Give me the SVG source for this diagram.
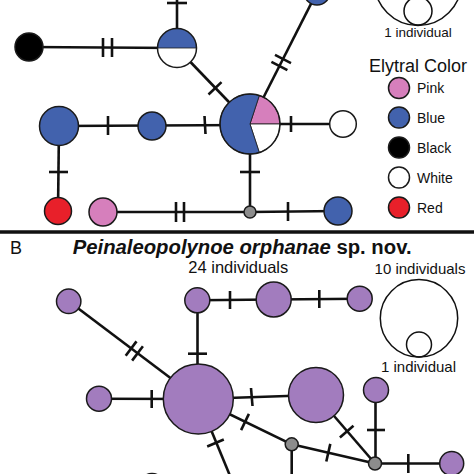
<svg xmlns="http://www.w3.org/2000/svg" width="474" height="474" viewBox="0 0 474 474">
<style>
.e{stroke:#111;stroke-width:2.6;fill:none;stroke-linecap:butt}
.t{stroke:#111;stroke-width:2.6;fill:none}
.n{stroke:#1a1a1a;stroke-width:1.5}
.s{stroke:#1a1a1a;stroke-width:0.8}
.blue{fill:#4262ad}.pink{fill:#d67fbc}.red{fill:#e8202a}.black{fill:#000}.white{fill:#fff}.gray{fill:#8c8c8c}.purple{fill:#a27cbe}
.lg{fill:none;stroke:#111;stroke-width:1.5}
text{font-family:"Liberation Sans",Arial,sans-serif;fill:#111}
</style>
<rect width="474" height="474" fill="#fff"/>
<g id="connectors">
<!-- Panel A -->
<line class="e" x1="29" y1="47" x2="177" y2="48"/>
<line class="t" x1="103" y1="38" x2="103" y2="57"/><line class="t" x1="112" y1="38" x2="112" y2="57"/>
<line class="e" x1="177" y1="48" x2="177" y2="-10"/>
<line class="t" x1="167" y1="3" x2="187" y2="3"/>
<line class="e" x1="177" y1="48" x2="250" y2="124"/>
<line class="t" x1="208.5" y1="94.5" x2="221.5" y2="82.1"/>
<line class="e" x1="250" y1="124" x2="317" y2="-8"/>
<line class="t" x1="275" y1="54.9" x2="291" y2="63.1"/><line class="t" x1="271.4" y1="61.9" x2="287.4" y2="70.1"/>
<line class="e" x1="250" y1="124" x2="343" y2="124"/>
<line class="t" x1="291" y1="116" x2="291" y2="132"/>
<line class="e" x1="59" y1="126" x2="250" y2="125"/>
<line class="t" x1="204.5" y1="116" x2="205.5" y2="134"/>
<line class="t" x1="108" y1="116" x2="108" y2="135"/>
<line class="e" x1="59" y1="126" x2="58" y2="211"/>
<line class="t" x1="49" y1="172" x2="68" y2="172"/>
<line class="e" x1="103" y1="212" x2="250" y2="212"/>
<line class="t" x1="176" y1="202" x2="176" y2="222"/><line class="t" x1="184" y1="202" x2="184" y2="222"/>
<line class="e" x1="250" y1="124" x2="250" y2="212"/>
<line class="t" x1="240" y1="172" x2="260" y2="172"/>
<line class="e" x1="250" y1="212" x2="338" y2="211"/>
<line class="t" x1="288" y1="202" x2="288" y2="221"/>
<!-- Panel B -->
<line class="e" x1="68.7" y1="301.3" x2="198.3" y2="399"/>
<line class="t" x1="125.7" y1="355.8" x2="136.5" y2="341.4"/><line class="t" x1="132.1" y1="360.6" x2="142.9" y2="346.2"/>
<line class="e" x1="197.5" y1="300.3" x2="197.5" y2="399"/>
<line class="t" x1="188" y1="353.7" x2="207" y2="353.7"/>
<line class="e" x1="197.3" y1="300.3" x2="273.7" y2="299.5"/>
<line class="t" x1="230" y1="291" x2="230" y2="309"/>
<line class="e" x1="273.7" y1="299.5" x2="359.7" y2="298.7"/>
<line class="t" x1="319.3" y1="290" x2="319.3" y2="308"/>
<line class="e" x1="99" y1="398.7" x2="198.3" y2="399"/>
<line class="t" x1="151.7" y1="390" x2="151.7" y2="408"/>
<line class="e" x1="198.3" y1="399" x2="316" y2="395"/>
<line class="t" x1="251" y1="388" x2="252.5" y2="406"/>
<line class="e" x1="198.3" y1="399" x2="291.7" y2="444.3"/>
<line class="t" x1="241.1" y1="430.1" x2="248.9" y2="413.9"/>
<line class="e" x1="198.3" y1="399" x2="240" y2="500"/>
<line class="t" x1="207.2" y1="446.5" x2="223.8" y2="439.5"/>
<line class="e" x1="291.7" y1="444.3" x2="291.7" y2="480"/>
<line class="e" x1="291.7" y1="444.3" x2="375" y2="463.5"/>
<line class="t" x1="326.3" y1="461.5" x2="330.3" y2="443.9"/>
<line class="e" x1="316" y1="395" x2="375" y2="463.5"/>
<line class="t" x1="339.9" y1="437.6" x2="353.5" y2="425.8"/>
<line class="e" x1="375.5" y1="390" x2="375.5" y2="463.5"/>
<line class="t" x1="367" y1="430" x2="385" y2="430"/>
<line class="e" x1="375" y1="463.5" x2="451.7" y2="463.5"/>
<line class="t" x1="408.3" y1="454" x2="408.3" y2="473"/>
</g>
<!-- Panel A nodes -->
<g id="a-black"><circle class="n black" cx="29" cy="47" r="14"/></g>
<g id="a-half">
<path class="blue" d="M157.5 48 A19.5 19.5 0 0 1 196.5 48 Z"/>
<path class="white" d="M157.5 48 A19.5 19.5 0 0 0 196.5 48 Z"/>
<line class="s" x1="157.5" y1="48" x2="196.5" y2="48"/>
<circle class="n" cx="177" cy="48" r="19.5" fill="none"/>
</g>
<g id="a-topblue"><circle class="n blue" cx="317" cy="-8" r="13"/></g>
<g id="a-big">
<path class="pink s" d="M250 124 L259.3 95.5 A30 30 0 0 1 280 124 Z"/>
<path class="white s" d="M250 124 L280 124 A30 30 0 0 1 259.3 152.5 Z"/>
<path class="blue s" d="M250 124 L259.3 152.5 A30 30 0 1 1 259.3 95.5 Z"/>
<circle class="n" cx="250" cy="124" r="30" fill="none"/>
</g>
<g id="a-white"><circle class="n white" cx="343" cy="124" r="13.3"/></g>
<g id="a-bluemed"><circle class="n blue" cx="152" cy="126" r="14"/></g>
<g id="a-blueleft"><circle class="n blue" cx="59" cy="126" r="19.5"/></g>
<g id="a-red"><circle class="n red" cx="58" cy="211" r="13.5"/></g>
<g id="a-pink"><circle class="n pink" cx="103" cy="212" r="14"/></g>
<g id="a-gray"><circle class="n gray" cx="250" cy="212" r="6"/></g>
<g id="a-bluebr"><circle class="n blue" cx="338" cy="211" r="14"/></g>
<!-- Legend A -->
<g id="a-legend">
<circle class="lg" cx="418" cy="-18" r="43.5"/>
<circle class="lg" cx="418" cy="11" r="14"/>
<text x="418" y="37" font-size="13.5" text-anchor="middle">1 individual</text>
<text x="418" y="71.5" font-size="18" text-anchor="middle">Elytral Color</text>
<circle class="n pink" cx="399" cy="88" r="10.5"/><text x="417" y="93" font-size="14">Pink</text>
<circle class="n blue" cx="399" cy="117.5" r="10.5"/><text x="417" y="122.5" font-size="14">Blue</text>
<circle class="n black" cx="399" cy="147.5" r="10.5"/><text x="417" y="152.5" font-size="14">Black</text>
<circle class="n white" cx="399" cy="177.5" r="10.5"/><text x="417" y="182.5" font-size="14">White</text>
<circle class="n red" cx="399" cy="207.5" r="10.5"/><text x="417" y="212.5" font-size="14">Red</text>
</g>
<line x1="0" y1="232" x2="474" y2="232" stroke="#111" stroke-width="3.5"/>
<!-- Panel B -->
<text x="10" y="254" font-size="18">B</text>
<text x="72.7" y="253.5" font-size="20.3" font-weight="bold"><tspan font-style="italic">Peinaleopolynoe orphanae</tspan> sp. nov.</text>
<text x="238.3" y="272.5" font-size="16.5" text-anchor="middle">24 individuals</text>
<g id="b-n1"><circle class="n purple" cx="68.7" cy="301.3" r="12.2"/></g>
<g id="b-n2"><circle class="n purple" cx="197.3" cy="300.3" r="12.5"/></g>
<g id="b-n3"><circle class="n purple" cx="273.7" cy="299.5" r="17.5"/></g>
<g id="b-n4"><circle class="n purple" cx="359.7" cy="298.7" r="12.5"/></g>
<g id="b-big"><circle class="n purple" cx="198.3" cy="399" r="35"/></g>
<g id="b-n5"><circle class="n purple" cx="99" cy="398.7" r="12.5"/></g>
<g id="b-n6"><circle class="n purple" cx="316" cy="395" r="27.5"/></g>
<g id="b-g1"><circle class="n gray" cx="291.7" cy="444.3" r="6.5"/></g>
<g id="b-g2"><circle class="n gray" cx="375" cy="463.5" r="6.5"/></g>
<g id="b-n7"><circle class="n purple" cx="376" cy="390" r="12.5"/></g>
<g id="b-n8"><circle class="n purple" cx="451.7" cy="463.5" r="12"/></g>
<g id="b-n9"><circle class="n purple" cx="152" cy="486" r="12.5"/></g>
<g id="b-legend">
<text x="420" y="273.7" font-size="15" text-anchor="middle">10 individuals</text>
<circle class="lg" cx="419" cy="318.3" r="38.7"/>
<circle class="lg" cx="419" cy="344.5" r="12.5"/>
<text x="418.5" y="372" font-size="15" text-anchor="middle">1 individual</text>
</g>
</svg>
